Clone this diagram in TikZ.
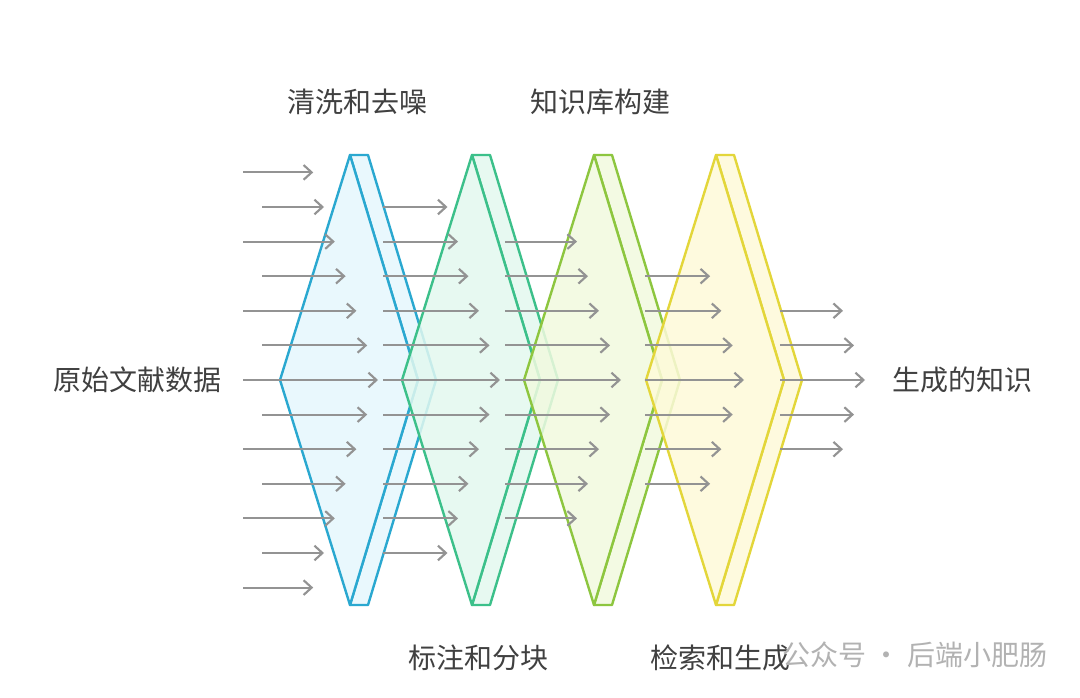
\documentclass[tikz,border=0pt]{standalone}
\usepackage{fontspec}
\newfontfamily\cjk{Noto Sans CJK SC}
\usetikzlibrary{arrows.meta}
\begin{document}
\begin{tikzpicture}[x=0.75pt,y=-0.75pt,
  arr/.style={draw=gray!85,line width=1.6pt,-{Straight Barb[length=6pt,width=11pt]}},
  lbl/.style={font=\cjk\fontsize{21}{24}\selectfont,text=black!75},
  prism/.style={line width=1.8pt,line join=round}]
\useasboundingbox (0,0) rectangle (1080,698);
\fill[white] (0,0) rectangle (1080,698);
\foreach \x/\c/\f in {350/2AA8D0/E6F7FD, 472/3CC08A/E3F9EF, 594/8DC63F/F1FADF, 716/E3D63A/FEFAD9}{
  \definecolor{sc}{HTML}{\c}\definecolor{fc}{HTML}{\f}
  \draw[prism,draw=sc,fill=fc,fill opacity=0.85] (\x,155) -- (\x+18,155) -- (\x+86,380) -- (\x+18,605) -- (\x,605) -- (\x+68,380) -- cycle;
  \draw[prism,draw=sc,fill=fc,fill opacity=0.85] (\x,155) -- (\x+68,380) -- (\x,605) -- (\x-70,380) -- cycle;
}
\foreach \n/\sa/\sb/\e/\d in {6/243/262/378/10.8, 5/383/383/500/10.5, 4/505/505/621/11, 3/645/645/744/11.3, 2/780/780/865/11}{
  \foreach \k in {-\n,...,\n}{
    \pgfmathsetmacro{\yy}{380+34.6*\k}
    \pgfmathtruncatemacro{\odd}{mod(abs(\k),2)}
    \pgfmathsetmacro{\xs}{\odd==1 ? \sb : \sa}
    \pgfmathsetmacro{\xe}{\e-\d*abs(\k)}
    \coordinate (s) at (\xs,\yy); \coordinate (t) at (\xe,\yy);
    \draw[arr] (s) -- (t);
  }
}
\node[lbl] (a) at (357,102) {清洗和去噪};
\node[lbl] (b) at (600,102) {知识库构建};
\node[lbl] (c) at (478,658) {标注和分块};
\node[lbl] (d) at (720,658) {检索和生成};
\node[lbl] (in) at (137,380) {原始文献数据};
\node[lbl] (out) at (962,380) {生成的知识};
\node[lbl,text=black!30] (wm) at (915,655) {公众号 · 后端小肥肠};
\end{tikzpicture}
\end{document}
